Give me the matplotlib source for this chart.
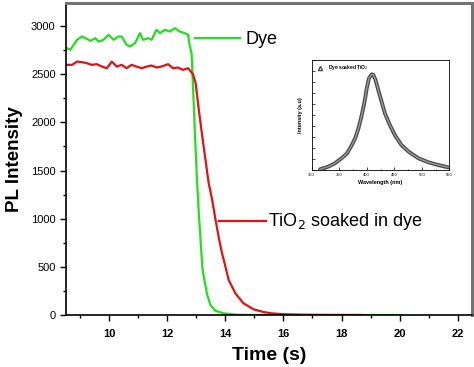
import matplotlib.pyplot as plt
from matplotlib.ticker import MultipleLocator

# PL decay, dye only (green)
dye_t = [8.54, 8.65, 8.88, 9.05, 9.22, 9.34, 9.51, 9.62, 9.79, 9.97, 10.14, 10.31,
         10.42, 10.59, 10.71, 10.88, 11.05, 11.16, 11.34, 11.45, 11.62, 11.74, 11.91,
         12.08, 12.25, 12.42, 12.59, 12.71, 12.76, 12.83, 12.88, 12.95, 13.02, 13.08,
         13.14, 13.20, 13.25, 13.37, 13.48, 13.65, 13.94, 14.4, 15.0, 18.0, 20.1]
dye_i = [2771, 2754, 2858, 2892, 2868, 2847, 2875, 2840, 2858, 2910, 2858, 2892,
         2892, 2806, 2789, 2823, 2927, 2858, 2875, 2858, 2962, 2927, 2962,
         2944, 2979, 2944, 2927, 2910, 2806, 2719, 2372, 1853, 1380, 1057,
         779, 500, 398, 208, 104, 45, 17, 3, 0, 0, 0]

# PL decay, TiO2 soaked in dye (red)
tio_t = [8.54, 8.71, 8.88, 9.05, 9.22, 9.39, 9.56, 9.74, 9.91, 10.08, 10.25, 10.42,
         10.59, 10.76, 10.93, 11.11, 11.28, 11.45, 11.62, 11.79, 12.02, 12.19, 12.36,
         12.53, 12.71, 12.80, 12.88, 12.97, 13.08, 13.20, 13.31, 13.42, 13.54, 13.65,
         13.77, 13.88, 13.94, 14.11, 14.34, 14.62, 14.97, 15.31, 15.59, 16.0, 16.6,
         17.3, 18.7]
tio_i = [2598, 2598, 2632, 2626, 2615, 2598, 2605, 2580, 2563, 2632, 2580, 2598,
         2563, 2598, 2580, 2563, 2580, 2591, 2570, 2580, 2605, 2563, 2570,
         2546, 2563, 2530, 2500, 2408, 2130, 1853, 1611, 1369, 1195, 1000,
         800, 640, 572, 364, 225, 121, 59, 31, 17, 8, 3,
         1, 0]

# inset: PL spectrum
wl = [315, 330, 342, 354, 364, 373, 379, 385, 391, 396, 400, 404, 409, 412, 416,
      421, 427, 433, 442, 451, 463, 476, 494, 512, 530, 548]
spec = [0.006, 0.03, 0.06, 0.106, 0.15, 0.227, 0.288, 0.379, 0.5, 0.62, 0.742,
        0.833, 0.87, 0.864, 0.818, 0.727, 0.621, 0.515, 0.409, 0.318, 0.227,
        0.167, 0.106, 0.07, 0.045, 0.024]

plt.rcParams['font.family'] = ['Liberation Sans', 'DejaVu Sans']

fig = plt.figure(figsize=(4.74, 3.67), dpi=100)
ax = fig.add_axes([0.1392, 0.1417, 0.8566, 0.8501])

green = '#22e01c'
red = '#e01212'
ax.plot(dye_t, dye_i, color=green, lw=1.6)
ax.plot(tio_t, tio_i, color=red, lw=1.6)

ax.set_xlim(8.5, 22.5)
ax.set_ylim(0, 3240)
ax.xaxis.set_major_locator(MultipleLocator(2))
ax.xaxis.set_minor_locator(MultipleLocator(1))
ax.yaxis.set_major_locator(MultipleLocator(500))
ax.yaxis.set_minor_locator(MultipleLocator(250))
ax.tick_params(which='major', length=4, width=1, labelsize=8)
ax.tick_params(which='minor', length=2.5, width=1)
ax.tick_params(axis='x', pad=6)
for lab in ax.get_xticklabels():
    lab.set_fontweight('bold')

for s in ['left', 'bottom']:
    ax.spines[s].set_linewidth(1.2)
for s in ['top', 'right']:
    ax.spines[s].set_color('0.45')
    ax.spines[s].set_linewidth(2.2)

ax.set_xlabel('Time (s)', fontsize=14, fontweight='bold', labelpad=6)
ax.set_ylabel('PL Intensity', fontsize=13.5, fontweight='bold', labelpad=6)

# labels with leader lines
ax.plot([12.95, 14.49], [2878, 2878], color=green, lw=1.6)
ax.text(14.69, 2860, 'Dye', fontsize=13, va='center')
ax.plot([13.77, 15.41], [977, 977], color=red, lw=1.6)
ax.text(15.48, 966, 'TiO$_2$ soaked in dye', fontsize=13, va='center')

# inset
ins = fig.add_axes([0.6576, 0.5368, 0.2903, 0.2997])
ins.plot(wl, spec, color='0.3', lw=2.8, solid_capstyle='round', solid_joinstyle='round')
ins.plot(wl, spec, color='0.62', lw=0.9, solid_joinstyle='round')
ins.plot([], [], ls='none', marker='^', mfc='none', mec='0.3', ms=3,
         label='Dye soaked TiO$_2$')
ins.legend(loc='upper left', frameon=False, handletextpad=0.6,
           borderaxespad=0.3, prop={'weight': 'bold', 'size': 3.5})
ins.set_xlim(300, 550)
ins.set_ylim(0, 1)
ins.xaxis.set_major_locator(MultipleLocator(50))
ins.xaxis.set_minor_locator(MultipleLocator(25))
ins.yaxis.set_major_locator(MultipleLocator(0.1))
ins.tick_params(which='both', direction='in', labelsize=3, length=2, width=0.5)
ins.tick_params(which='minor', length=1)
ins.tick_params(axis='x', pad=2)
ins.set_yticklabels([])
for s in ins.spines.values():
    s.set_linewidth(0.6)
ins.set_xlabel('Wavelength (nm)', fontsize=4, fontweight='bold', labelpad=2)
ins.set_ylabel('Intensity (a.u)', fontsize=4, fontweight='bold', labelpad=3)

fig.savefig('out.png', dpi=100)
